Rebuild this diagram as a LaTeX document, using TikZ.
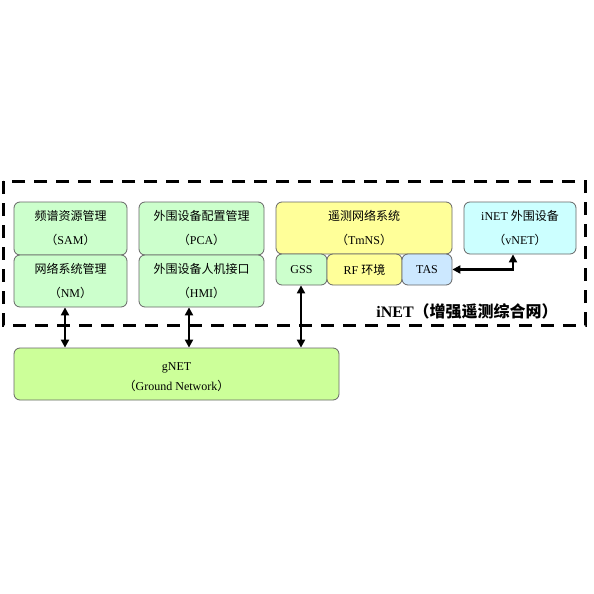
\documentclass[tikz,border=0pt]{standalone}
\usepackage{fontspec}
\setmainfont{Liberation Serif}
\newfontfamily\cjk{Noto Sans CJK SC}
\usetikzlibrary{arrows.meta}
\definecolor{bord}{HTML}{666666}
\definecolor{lgreen}{HTML}{CCFFCC}
\definecolor{lyellow}{HTML}{FFFF99}
\definecolor{lcyan}{HTML}{CCFFFF}
\definecolor{lblue}{HTML}{CCE8FF}
\definecolor{ggreen}{HTML}{CCFF99}
\tikzset{
  box/.style={draw=bord, line width=0.8pt, rounded corners=6pt, inner sep=0pt, align=center,
    font=\fontsize{12}{24}\selectfont},
  small/.style={box, font=\fontsize{12}{14}\selectfont},
  conn/.style={line width=2.6pt, {Triangle[length=8pt,width=8pt]}-{Triangle[length=8pt,width=8pt]}},
}
\begin{document}
\begin{tikzpicture}[x=1pt,y=-1pt]
\fill[white] (0,0) rectangle (594,594);
\useasboundingbox (0,0) rectangle (594,594);
% outer dashed boundary
\draw[line width=3pt, dash pattern=on 13pt off 9pt] (3,181) rectangle (585,325);
\node[fill=white, inner sep=0pt, minimum width=210pt, minimum height=26pt] (titlebg) at (473,308) {};
\node[inner sep=0pt, font=\fontsize{16}{18}\selectfont\bfseries] (title) at (467,311) {iNET{\cjk\bfseries（增强遥测综合网）}};
% left column
\node[box, fill=lgreen, minimum width=113pt, minimum height=53pt] (sam) at (70.5,228.5)
  {{\cjk 频谱资源管理}\\{\cjk（}SAM{\cjk）}};
\node[box, fill=lgreen, minimum width=113pt, minimum height=52pt] (nm) at (70.5,281)
  {{\cjk 网络系统管理}\\{\cjk（}NM{\cjk）}};
% middle column
\node[box, fill=lgreen, minimum width=125pt, minimum height=53pt] (pca) at (201.5,228.5)
  {{\cjk 外围设备配置管理}\\{\cjk（}PCA{\cjk）}};
\node[box, fill=lgreen, minimum width=125pt, minimum height=52pt] (hmi) at (201.5,281)
  {{\cjk 外围设备人机接口}\\{\cjk（}HMI{\cjk）}};
% TmNS
\node[box, fill=lyellow, minimum width=176pt, minimum height=52pt] (tmns) at (364,228)
  {{\cjk 遥测网络系统}\\{\cjk（}TmNS{\cjk）}};
\node[small, fill=lgreen, minimum width=51pt, minimum height=31pt] (gss) at (301.5,269.5) {GSS};
\node[small, fill=lyellow, minimum width=75pt, minimum height=31pt] (rf) at (364.5,269.5) {RF {\cjk 环境}};
\node[small, fill=lblue, minimum width=50pt, minimum height=31pt] (tas) at (427,269.5) {TAS};
% vNET
\node[box, fill=lcyan, minimum width=112pt, minimum height=52pt] (vnet) at (520,228)
  {iNET {\cjk 外围设备}\\{\cjk（}vNET{\cjk）}};
% gNET
\node[box, fill=ggreen, minimum width=325pt, minimum height=52pt] (gnet) at (176.5,374) {};
\node[align=center, inner sep=0pt, font=\fontsize{12}{20}\selectfont] (gnettext) at (176.5,377)
  {gNET\\{\cjk（}Ground Network{\cjk）}};
% connectors
\draw[conn] (nm.south -| 65,0) -- (gnet.north -| 65,0);
\draw[conn] (hmi.south -| 189,0) -- (gnet.north -| 189,0);
\draw[conn] (gss.south -| 301,0) -- (gnet.north -| 301,0);
\draw[line width=2.2pt, {Triangle[length=8pt,width=8pt]}-{Triangle[length=8pt,width=8pt]}] (tas.east) -| (vnet.south -| 513,0);
\end{tikzpicture}
\end{document}
